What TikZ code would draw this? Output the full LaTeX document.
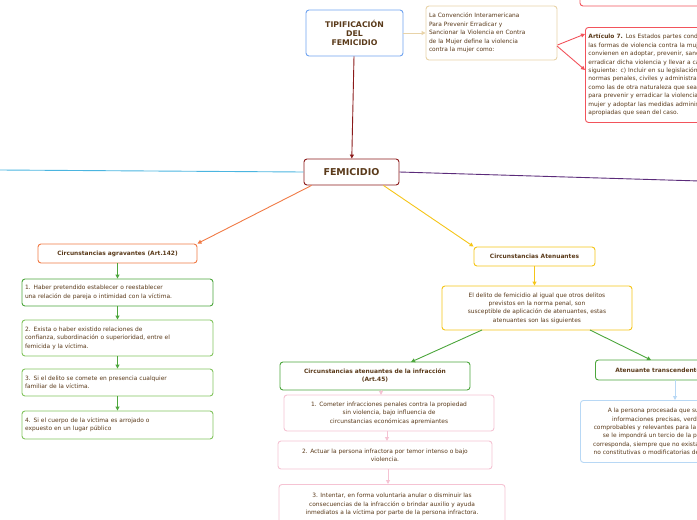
\documentclass[tikz,border=0pt]{standalone}
\usepackage{fontspec}
\setmainfont{DejaVu Sans}
\usetikzlibrary{arrows.meta}
\definecolor{txt}{HTML}{5A3A1A}
\definecolor{cblue}{HTML}{6FA3F0}
\definecolor{ctan}{HTML}{E8D3A8}
\definecolor{cred}{HTML}{F2535B}
\definecolor{cdred}{HTML}{8B1A1A}
\definecolor{corange}{HTML}{F07A45}
\definecolor{cgreen}{HTML}{4CA63C}
\definecolor{cgreen2}{HTML}{82C45E}
\definecolor{cyel}{HTML}{F5C518}
\definecolor{cpink}{HTML}{F5C3D3}
\definecolor{clblue}{HTML}{B8D8F5}
\definecolor{cline}{HTML}{4BB5E0}
\definecolor{cpurp}{HTML}{5B2B7A}
\tikzset{
 bx/.style={draw, rounded corners=3pt, line width=0.9pt, fill=white, text=txt, align=center, inner sep=3pt, font=\fontsize{5.9}{8.4}\selectfont},
 ar/.style={line width=0.9pt, -{Triangle[length=4pt,width=4pt]}},
}
\begin{document}
\begin{tikzpicture}[x=1pt,y=-1pt]
\useasboundingbox (0,0) rectangle (697,520);
\clip (0,0) rectangle (697,520);
\coordinate (L) at (0,170);
\coordinate (R) at (700,181);
\node[bx, draw=cblue, minimum width=97pt, minimum height=46pt, font=\bfseries\fontsize{7.8}{9.2}\selectfont] (tip) at (354.5,33) {TIPIFICACIÓN\\DEL\\FEMICIDIO};
\node[bx, draw=ctan, align=left, text width=125pt, minimum height=54pt] (conv) at (491.5,33) {La Convención Interamericana\\Para Prevenir Erradicar y\\Sancionar la Violencia en Contra\\de la Mujer define la violencia\\contra la mujer como:};
\node[bx, draw=cred, minimum width=140pt, minimum height=16pt] (top) at (650,-2) {};
\node[bx, draw=cred, align=left, text width=150pt, minimum height=95pt, anchor=north west] (art) at (585,27) {\textbf{Artículo 7.} Los Estados partes condenan todas\\las formas de violencia contra la mujer y\\convienen en adoptar, prevenir, sancionar y\\erradicar dicha violencia y llevar a cabo lo\\siguiente: c) Incluir en su legislación interna\\normas penales, civiles y administrativas, así\\como las de otra naturaleza que sean necesarias\\para prevenir y erradicar la violencia contra la\\mujer y adoptar las medidas administrativas\\apropiadas que sean del caso.};
\node[bx, draw=cdred, minimum width=95pt, minimum height=26pt, font=\bfseries\fontsize{9.5}{11}\selectfont] (fem) at (351.5,172) {FEMICIDIO};
\node[bx, draw=corange, minimum width=159pt, minimum height=19pt, font=\bfseries\fontsize{5.9}{8}\selectfont] (agr) at (117.5,253.5) {Circunstancias agravantes (Art.142)};
\node[bx, draw=cgreen, text width=185pt, align=left, minimum height=27pt] (a1) at (117.5,292.5) {1. Haber pretendido establecer o reestablecer\\una relación de pareja o intimidad con la víctima.};
\node[bx, draw=cgreen2, text width=185pt, align=left, minimum height=36pt] (a2) at (117.5,338) {2. Exista o haber existido relaciones de\\confianza, subordinación o superioridad, entre el\\femicida y la víctima.};
\node[bx, draw=cgreen2, text width=185pt, align=left, minimum height=27pt] (a3) at (117.5,382.5) {3. Si el delito se comete en presencia cualquier\\familiar de la víctima.};
\node[bx, draw=cgreen2, text width=185pt, align=left, minimum height=28pt] (a4) at (117.5,425) {4. Si el cuerpo de la víctima es arrojado o\\expuesto en un lugar público};
\node[bx, draw=cyel, minimum width=121pt, minimum height=19pt, font=\bfseries\fontsize{5.9}{8}\selectfont] (ate) at (534.5,256.5) {Circunstancias Atenuantes};
\node[bx, draw=cyel, minimum width=190pt, minimum height=44pt] (del) at (537,308) {El delito de femicidio al igual que otros delitos\\previstos en la norma penal, son\\susceptible de aplicación de atenuantes, estas\\atenuantes son las siguientes};
\node[bx, draw=cgreen, minimum width=190pt, minimum height=28pt, font=\bfseries\fontsize{5.9}{8}\selectfont] (inf) at (375,376) {Circunstancias atenuantes de la infracción\\(Art.45)};
\node[bx, draw=cgreen, minimum width=125pt, minimum height=20pt, anchor=west, font=\bfseries\fontsize{5.9}{8}\selectfont] (tra) at (595,370) {Atenuante transcendente};
\node[bx, draw=clblue, minimum width=170pt, minimum height=62pt, anchor=north west] (trb) at (580,400) {A la persona procesada que suministre\\informaciones precisas, verdaderas,\\comprobables y relevantes para la investigación\\se le impondrá un tercio de la pena que le\\corresponda, siempre que no existan agravantes\\no constitutivas o modificatorias de la infracción};
\node[bx, draw=cpink, minimum width=210pt, minimum height=36pt] (p1) at (389,413) {1. Cometer infracciones penales contra la propiedad\\sin violencia, bajo influencia de\\circunstancias económicas apremiantes};
\node[bx, draw=cpink, minimum width=214pt, minimum height=28pt] (p2) at (385,455) {2. Actuar la persona infractora por temor intenso o bajo\\violencia.};
\node[bx, draw=cpink, minimum width=226pt, minimum height=40pt, anchor=north] (p3) at (392,484) {3. Intentar, en forma voluntaria anular o disminuir las\\consecuencias de la infracción o brindar auxilio y ayuda\\inmediatos a la víctima por parte de la persona infractora.};
\draw[ar, cdred] (tip) -- (fem);
\draw[ar, ctan] (tip) -- (conv);
\draw[ar, cred] (conv.east |- 0,45) -- (585,34);
\draw[ar, cred] (557,46) -- (art.west |- 0,70);
\draw[line width=0.9pt, cline] (fem.west) -- (L);
\draw[line width=0.9pt, cpurp] (fem.east) -- (R);
\draw[ar, corange] (fem.south west) ++(8,0) -- (agr.north east);
\draw[ar, cyel] (fem.south east) ++(-16,0) -- (ate.north west);
\foreach \a/\b in {agr/a1,a1/a2,a2/a3,a3/a4} \draw[ar, cgreen] (\a) -- (\b);
\draw[ar, cyel] (ate) -- (ate|-del.north);
\draw[ar, cgreen] (482,330) -- (411,362);
\draw[ar, cgreen] (590,330) -- (651,360);
\draw[ar, clblue] (675,380) -- (675,400);
\draw[ar, cpink] (inf.south -| 381,0) -- (381,395);
\draw[ar, cpink] (387,431) -- (387,441);
\draw[ar, cpink] (388,469) -- (388,484);
\end{tikzpicture}
\end{document}
